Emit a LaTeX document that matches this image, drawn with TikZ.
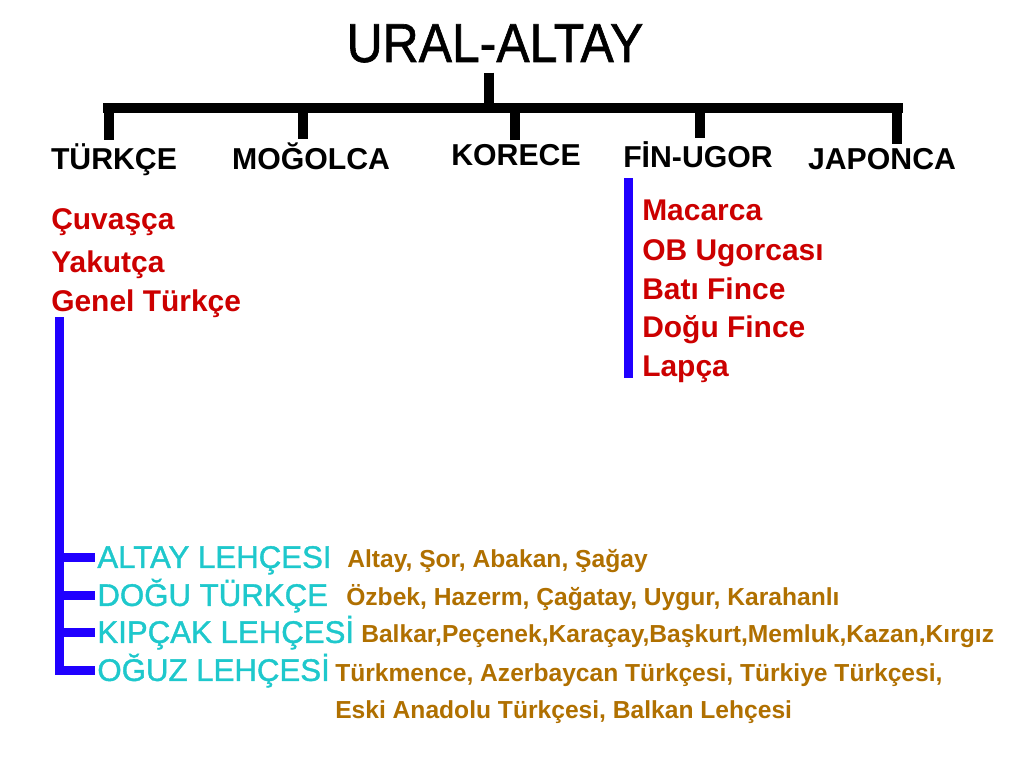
\documentclass[tikz,border=0pt]{standalone}
\usepackage{fontspec}
\setmainfont{Liberation Sans}
\newfontfamily\heavysans[FakeBold=1.2]{Liberation Sans}
\definecolor{treeblue}{RGB}{32,0,255}
\definecolor{langred}{RGB}{204,0,0}
\definecolor{dialcyan}{RGB}{30,200,204}
\definecolor{tonguebrown}{RGB}{176,112,0}
\tikzset{
  trunk/.style={line width=7pt, black},
  blueline/.style={line width=6.4pt, treeblue},
  rootlabel/.style={anchor=base, inner sep=7pt, font=\heavysans\fontsize{39}{39}\selectfont},
  familylabel/.style={anchor=base, inner sep=3pt, font=\fontsize{21.5}{22}\selectfont\bfseries},
  langlabel/.style={anchor=base west, inner sep=0pt, langred, font=\fontsize{21.3}{21}\selectfont\bfseries},
  dialectlabel/.style={anchor=west, inner sep=1.5pt, text height=15.5pt, text depth=0pt, dialcyan, font=\heavysans\fontsize{22.2}{22}\selectfont},
  tonguelabel/.style={anchor=base west, inner sep=0pt, tonguebrown, font=\fontsize{17.5}{17}\selectfont\bfseries}
}
\begin{document}
\begin{tikzpicture}[x=0.025cm, y=-0.025cm]
			%%%%% START %%%%%
			\fill[white] (0,0) rectangle (1024,768);
			\useasboundingbox (0,0) rectangle (1024,768);
			
			\node[rootlabel] (root) at (495,62) {\scalebox{0.91}[1]{URAL-ALTAY}};
			\coordinate (stem) at (489,108);
			\draw[trunk] (stem |- root.south) -- (stem);
			\draw[trunk] (103,108) -- (903,108);
			
			\node[familylabel] (tur) at (114,170) {TÜRKÇE};
			\node[familylabel] (mog) at (311,170) {MOĞOLCA};
			\node[familylabel] (kor) at (516,166) {KORECE};
			\node[familylabel] (fin) at (698,168) {FİN-UGOR};
			\node[familylabel] (jap) at (882,170) {JAPONCA};
			\foreach \x/\n in {109/tur,303/mog,515/kor,700/fin,897/jap}
				\draw[trunk] (\x,108) -- (\x,108 |- \n.north);
			
			\node[langlabel] (cuv) at (51,229) {Çuvaşça};
			\node[langlabel] (yak) at (51,272) {Yakutça};
			\node[langlabel] (gen) at (51,311) {Genel Türkçe};
			
			\coordinate (fintop) at (628,178);
			\coordinate (finbot) at (628,378);
			\draw[blueline] (fintop) -- (finbot);
			\node[langlabel] (mac) at (642,220) {Macarca};
			\node[langlabel] (obu) at (642,260) {OB Ugorcası};
			\node[langlabel] (bat) at (642,299) {Batı Fince};
			\node[langlabel] (dog) at (642,337) {Doğu Fince};
			\node[langlabel] (lap) at (642,376) {Lapça};
			
			\node[dialectlabel] (altay) at (95,557) {ALTAY LEHÇESI};
			\node[dialectlabel] (dogu) at (95,595) {DOĞU TÜRKÇE};
			\node[dialectlabel] (kipcak) at (95,632) {KIPÇAK LEHÇESİ};
			\node[dialectlabel] (oguz) at (95,670) {OĞUZ LEHÇESİ};
			
			\coordinate (spine) at (59.5,0);
			\draw[blueline] (gen.south -| spine) |- (oguz.west);
			\foreach \n in {altay,dogu,kipcak}
				\draw[blueline] (\n.west -| spine) -- (\n.west);
			
			\node[tonguelabel] (altayx) at (347,567) {Altay, Şor, Abakan, Şağay};
			\node[tonguelabel] (dogux) at (346,605) {Özbek, Hazerm, Çağatay, Uygur, Karahanlı};
			\node[tonguelabel] (kipcakx) at (361,642) {Balkar,Peçenek,Karaçay,Başkurt,Memluk,Kazan,Kırgız};
			\node[tonguelabel] (oguzx) at (335,681) {Türkmence, Azerbaycan Türkçesi, Türkiye Türkçesi,};
			\node[tonguelabel] (oguzy) at (335,718) {Eski Anadolu Türkçesi, Balkan Lehçesi};
			%%%%% END %%%%%
\end{tikzpicture}
\end{document}
